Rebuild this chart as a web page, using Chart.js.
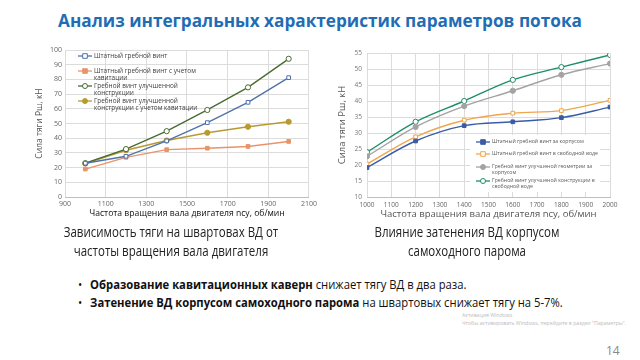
<!DOCTYPE html>
<html>
<head>
<meta charset="utf-8">
<script src="https://cdn.jsdelivr.net/npm/chart.js@4.4.0/dist/chart.umd.min.js"></script>
<style>
  body { margin:0; background:#fff; }
  #page { position:relative; width:640px; height:360px; overflow:hidden; background:#fff; font-family:"Open Sans", "Noto Sans", sans-serif; }
  #title { position:absolute; left:0; top:9px; width:640px; text-align:center; font-weight:bold; font-size:17.2px; color:#1F6DB4; white-space:nowrap; }
  .box { position:absolute; top:40px; height:185px; background:#fff; }
  #box1 { left:30px; width:290px; }
  #box2 { left:333px; width:300px; }
  .cap { position:absolute; text-align:center; font-size:14px; line-height:19px; color:#222; white-space:nowrap; transform:scaleX(0.82); }
  #cap1 { left:21px; width:300px; top:222px; }
  #cap2 { left:317px; width:300px; top:222px; }
  #bul { position:absolute; left:78px; top:275px; font-size:13px; line-height:18px; color:#111; white-space:nowrap; transform:scaleX(0.865); transform-origin:0 0; }
  #bul span.d { display:inline-block; width:14px; }
  #win { position:absolute; left:462px; top:311px; font-size:6px; line-height:8px; color:#bbb; white-space:nowrap; transform:scaleX(0.86); transform-origin:0 0; }
  #num { position:absolute; left:606px; top:342px; font-size:12px; color:#888; }
</style>
</head>
<body>
<div id="page">
  <div id="title">Анализ интегральных характеристик параметров потока</div>
  <div class="box" id="box1"><canvas id="chart1" width="290" height="185"></canvas></div>
  <div class="box" id="box2"><canvas id="chart2" width="300" height="185"></canvas></div>
  <div class="cap" id="cap1">Зависимость тяги на швартовах ВД от<br>частоты вращения вала двигателя</div>
  <div class="cap" id="cap2">Влияние затенения ВД корпусом<br>самоходного парома</div>
  <div id="bul">
    <div><span class="d">•</span><b>Образование кавитационных каверн</b> снижает тягу ВД в два раза.</div>
    <div><span class="d">•</span><b>Затенение ВД корпусом самоходного парома</b> на швартовых снижает тягу на 5-7%.</div>
  </div>
  <div id="win">Активация Windows<br>Чтобы активировать Windows, перейдите в раздел "Параметры".</div>
  <div id="num">14</div>
</div>
<script>
// левый график
var rpm = [1000, 1200, 1400, 1600, 1800, 2000];
var stdScrew = [23, 27.7, 38.2, 50.6, 64.4, 81.2];
var stdCavit = [19, 27, 32.2, 33.2, 34.4, 37.8];
var newScrew = [23, 32.6, 44.8, 59.2, 74.6, 94];
var newCavit = [22.8, 31.8, 38.4, 43.7, 47.8, 51.2];

var names1 = [
  ['Штатный гребной винт'],
  ['Штатный гребной винт с учетом', 'кавитации'],
  ['Гребной винт улучшенной', 'конструкции'],
  ['Гребной винт улучшенной', 'конструкции с учетом кавитации']
];

// правый график
var rpm2 = [1000, 1200, 1400, 1600, 1800, 2000];
var hullStd = [19.2, 27.5, 32.3, 33.5, 34.8, 38.1];
var freeStd = [20.3, 28.8, 34, 36.2, 37, 40.2];
var hullNew = [22.7, 31.9, 38.4, 43.2, 48.2, 51.7];
var freeNew = [24, 33.5, 40, 46.6, 50.6, 54.4];

var names2 = [
  ['Штатный гребной винт за корпусом'],
  ['Штатный гребной винт в свободной воде'],
  ['Гребной винт улучшеной геометрии за', 'корпусом'],
  ['Гребной винт улучшеной конструкции в', 'свободной воде']
];

function pts(xs, ys) {
  var r = [];
  for (var i = 0; i < xs.length; i++) r.push({x: xs[i], y: ys[i]});
  return r;
}

function ds(label, xs, ys, color, style, open, w) {
  return {
    label: label,
    data: pts(xs, ys),
    borderColor: color,
    backgroundColor: open ? '#fff' : color,
    pointBackgroundColor: open ? '#fff' : color,
    pointBorderColor: color,
    pointStyle: style,
    pointRadius: 2.6,
    pointBorderWidth: 1,
    borderWidth: w || 1.4,
    open: open
  };
}

function drawMark(ctx, x, y, d) {
  ctx.save();
  ctx.strokeStyle = d.borderColor;
  ctx.fillStyle = d.open ? '#fff' : d.borderColor;
  ctx.lineWidth = 1;
  ctx.beginPath();
  if (d.pointStyle == 'rect') ctx.rect(x - 2.3, y - 2.3, 4.6, 4.6);
  else ctx.arc(x, y, 2.5, 0, Math.PI * 2);
  ctx.fill();
  ctx.stroke();
  ctx.restore();
}

// легенда в несколько строк рисуется вручную
var legendPlugin = {
  id: 'mlegend',
  afterDraw: function(chart, args, opts) {
    var ctx = chart.ctx;
    var sets = chart.data.datasets;
    ctx.save();
    if (opts.bg) {
      ctx.fillStyle = '#fff';
      ctx.fillRect(opts.bg[0], opts.bg[1], opts.bg[2], opts.bg[3]);
    }
    ctx.font = opts.font + 'px "Open Sans", sans-serif';
    ctx.textBaseline = 'middle';
    for (var i = 0; i < sets.length; i++) {
      var y = opts.ys[i];
      var x = opts.x;
      ctx.strokeStyle = sets[i].borderColor;
      ctx.lineWidth = 1.3;
      ctx.beginPath();
      ctx.moveTo(x, y);
      ctx.lineTo(x + opts.len, y);
      ctx.stroke();
      drawMark(ctx, x + opts.len / 2, y, sets[i]);
      ctx.fillStyle = opts.color;
      var lines = opts.names[i];
      for (var j = 0; j < lines.length; j++) {
        ctx.fillText(lines[j], x + opts.len + 2, y + j * opts.lh);
      }
    }
    ctx.restore();
  }
};

var tickFont = {family: '"Open Sans", sans-serif', size: 7};
var plain = function(v) { return v; };

new Chart(document.getElementById('chart1'), {
  type: 'line',
  data: {
    datasets: [
      ds('Штатный гребной винт', rpm, stdScrew, '#4F72AA', 'rect', true),
      ds('Штатный гребной винт с учетом кавитации', rpm, stdCavit, '#E8946A', 'rect', false),
      ds('Гребной винт улучшенной конструкции', rpm, newScrew, '#4A6B30', 'circle', true),
      ds('Гребной винт улучшенной конструкции с учетом кавитации', rpm, newCavit, '#B89A2E', 'circle', false)
    ]
  },
  options: {
    responsive: false,
    animation: false,
    layout: {padding: {top: 10, right: 7, left: 4, bottom: 0}},
    plugins: {
      legend: {display: false},
      tooltip: {enabled: false},
      mlegend: {
        x: 48, len: 14, font: 6.4, lh: 7.4, color: '#404040',
        ys: [16, 31, 46, 61], names: names1
      }
    },
    scales: {
      x: {
        type: 'linear', min: 900, max: 2100,
        ticks: {stepSize: 200, font: tickFont, color: '#666', padding: 3, callback: plain},
        grid: {color: '#dcdcdc', drawTicks: false},
        border: {color: '#bfbfbf'},
        title: {display: true, text: 'Частота вращения вала двигателя nсу, об/мин', color: '#111', font: {family: '"Open Sans", sans-serif', size: 8.6}, padding: {top: 1, bottom: 6}},
        afterFit: function(s) { s.height = 28; }
      },
      y: {
        min: 0, max: 100,
        ticks: {stepSize: 10, font: tickFont, color: '#666', padding: 3},
        grid: {color: '#dcdcdc', drawTicks: false},
        border: {display: false},
        title: {display: true, text: 'Сила тяги Рш, кН', color: '#555', font: {family: '"Open Sans", sans-serif', size: 8.5}, padding: {top: 0, bottom: 2}},
        afterFit: function(s) { s.width = 31; }
      }
    }
  },
  plugins: [legendPlugin]
});

new Chart(document.getElementById('chart2'), {
  type: 'line',
  data: {
    datasets: [
      ds('Штатный гребной винт за корпусом', rpm2, hullStd, '#3A5CA6', 'rect', false),
      ds('Штатный гребной винт в свободной воде', rpm2, freeStd, '#EFA64E', 'rect', true),
      ds('Гребной винт улучшеной геометрии за корпусом', rpm2, hullNew, '#A3A3A3', 'circle', false),
      ds('Гребной винт улучшеной конструкции в свободной воде', rpm2, freeNew, '#1E8E68', 'circle', true)
    ].map(function(d) { d.tension = 0.35; return d; })
  },
  options: {
    responsive: false,
    animation: false,
    layout: {padding: {top: 13, right: 23, left: 4, bottom: 0}},
    plugins: {
      legend: {display: false},
      tooltip: {enabled: false},
      mlegend: {
        x: 143, len: 14, font: 5.2, lh: 6, color: '#595959',
        ys: [102, 114, 127, 141], names: names2,
        bg: [137, 95, 130, 57]
      }
    },
    scales: {
      x: {
        type: 'linear', min: 1000, max: 2000,
        ticks: {stepSize: 100, font: {family: '"Open Sans", sans-serif', size: 6.5}, color: '#666', padding: 4, callback: plain},
        grid: {color: '#dcdcdc', drawTicks: false},
        border: {color: '#bfbfbf'},
        title: {display: true, text: 'Частота вращения вала двигателя nсу, об/мин', color: '#555', font: {family: '"Open Sans", sans-serif', size: 9.5}, padding: {top: 1, bottom: 5}},
        afterFit: function(s) { s.height = 28; }
      },
      y: {
        min: 10, max: 55,
        ticks: {stepSize: 5, font: {family: '"Open Sans", sans-serif', size: 6.5}, color: '#777', padding: 5},
        grid: {color: '#dcdcdc', drawTicks: false},
        border: {display: false},
        title: {display: true, text: 'Сила тяги Рш, кН', color: '#555', font: {family: '"Open Sans", sans-serif', size: 9.5}, padding: {top: 0, bottom: 2}},
        afterFit: function(s) { s.width = 30; }
      }
    }
  },
  plugins: [legendPlugin]
});
</script>
</body>
</html>
